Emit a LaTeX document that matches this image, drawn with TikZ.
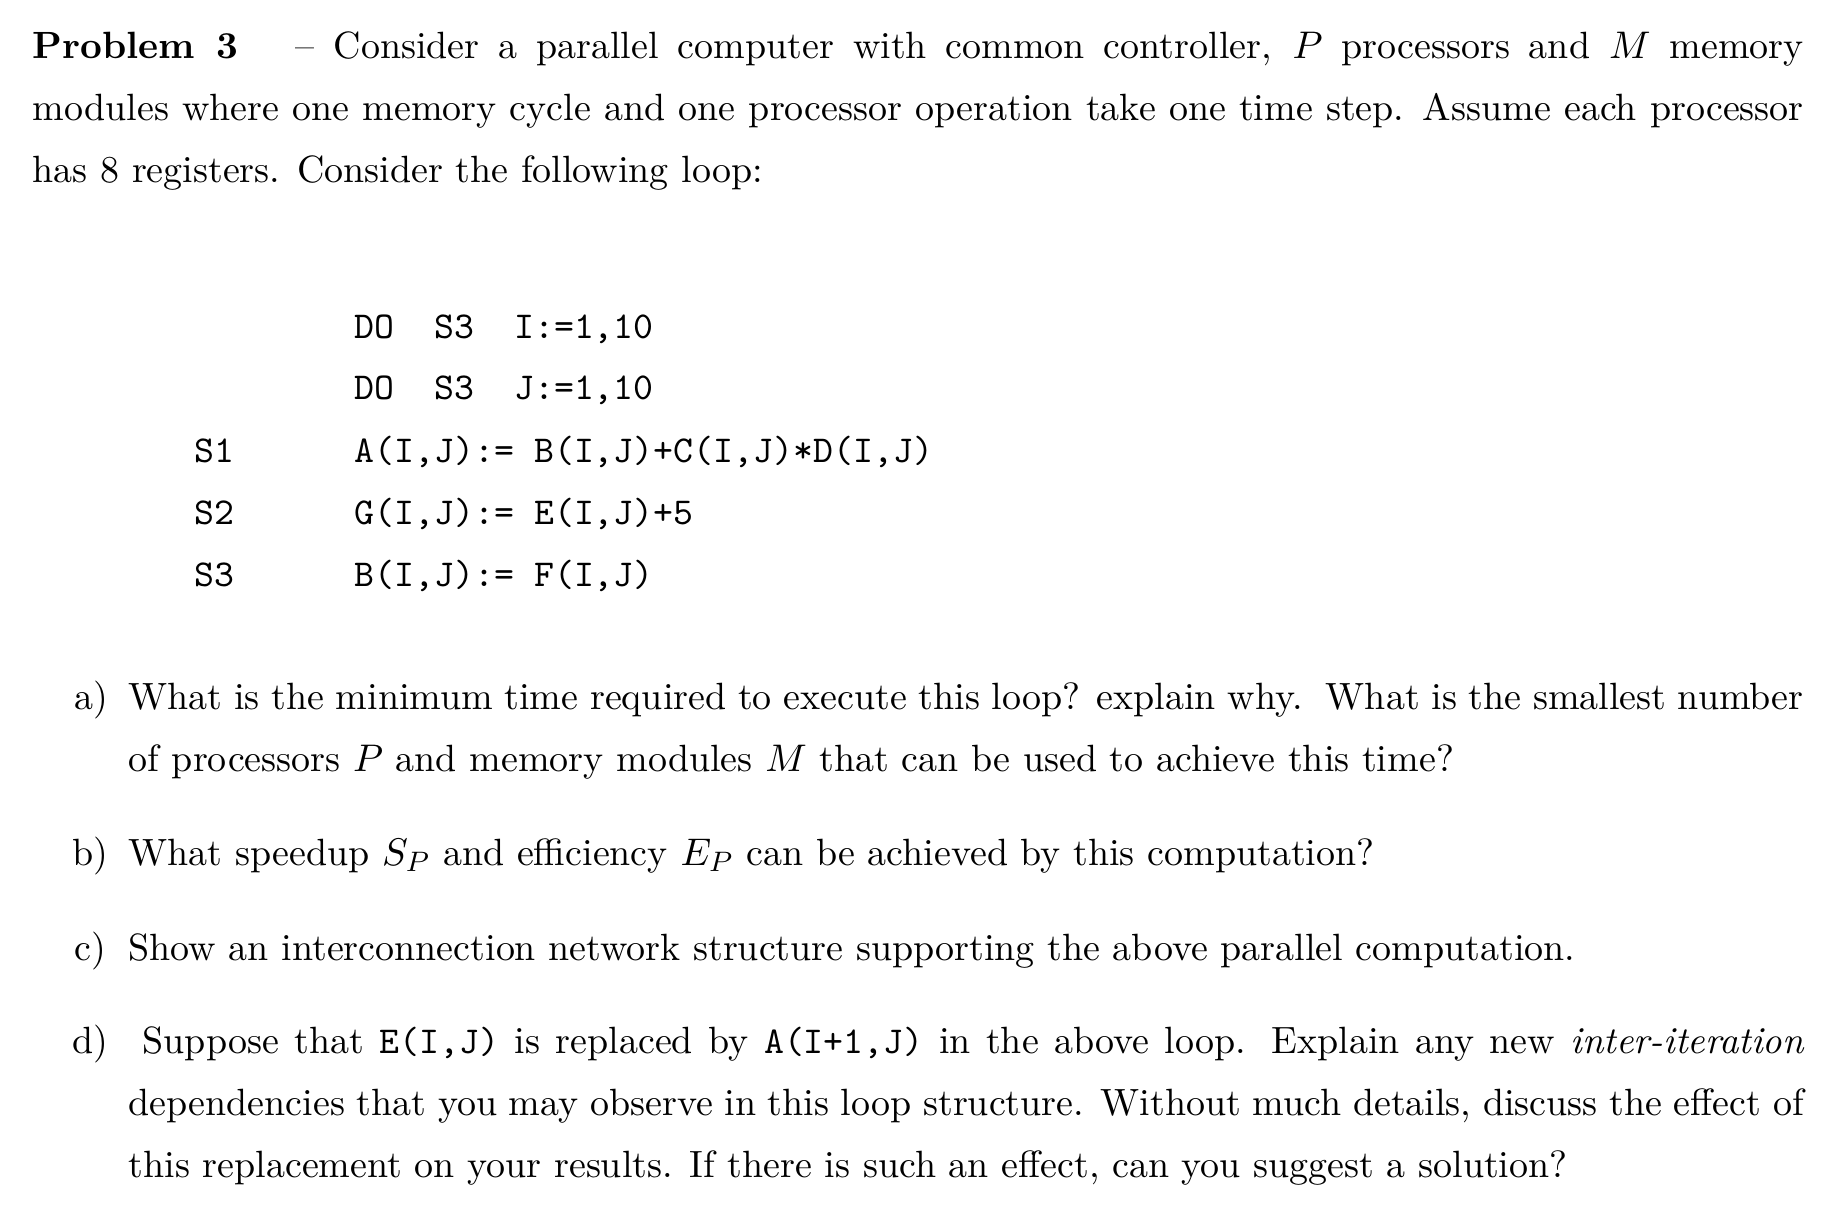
\documentclass[tikz,border=0pt]{standalone}
\begin{document}
\begin{tikzpicture}[x=0.01cm,y=-0.01cm,
  txt/.style={inner sep=0pt,anchor=base west,align=justify,font=\fontsize{10.8pt}{17.6pt}\selectfont},
  code/.style={inner sep=0pt,anchor=base west,font=\fontsize{10.8pt}{12pt}\selectfont\ttfamily}]
\useasboundingbox (0,0) rectangle (1842,1222);
\node[txt,text width=17.70cm] (p) at (32,59) {\textbf{Problem 3}\quad\ -- Consider a parallel computer with common controller, $P$ processors and $M$ memory modules where one memory cycle and one processor operation take one time step. Assume each processor has 8 registers. Consider the following loop:};
\node[code] (c1) at (354,339) {DO\ \ S3\ \ I:=1,10};
\node[code] (c2) at (354,400) {DO\ \ S3\ \ J:=1,10};
\node[code] (l1) at (194,463) {S1};
\node[code] (c3) at (354,463) {A(I,J):= B(I,J)+C(I,J)*D(I,J)};
\node[code] (l2) at (194,525) {S2};
\node[code] (c4) at (354,525) {G(I,J):= E(I,J)+5};
\node[code] (l3) at (194,587) {S3};
\node[code] (c5) at (354,587) {B(I,J):= F(I,J)};
\node[txt] (la) at (74,710) {a)};
\node[txt,text width=16.74cm] (ta) at (128,710) {What is the minimum time required to execute this loop? explain why.\ \ What is the smallest number of processors $P$ and memory modules $M$ that can be used to achieve this time?};
\node[txt] (lb) at (72,866) {b)};
\node[txt,text width=16.74cm] (tb) at (128,866) {What speedup $S_P$ and efficiency $E_P$ can be achieved by this computation?};
\node[txt] (lc) at (74,960) {c)};
\node[txt,text width=16.74cm] (tc) at (128,960) {Show an interconnection network structure supporting the above parallel computation.};
\node[txt] (ld) at (72,1054) {d)};
\node[txt,text width=16.74cm] (td) at (128,1054) {\hyphenpenalty=10000\hspace{0.14cm}Suppose that \texttt{E(I,J)} is replaced by \texttt{A(I+1,J)} in the above loop. Explain any new \textit{inter-iteration} dependencies that you may observe in this loop structure. Without much details, discuss the effect of this replacement on your results. If there is such an effect, can you suggest a solution?};
\end{tikzpicture}
\end{document}
